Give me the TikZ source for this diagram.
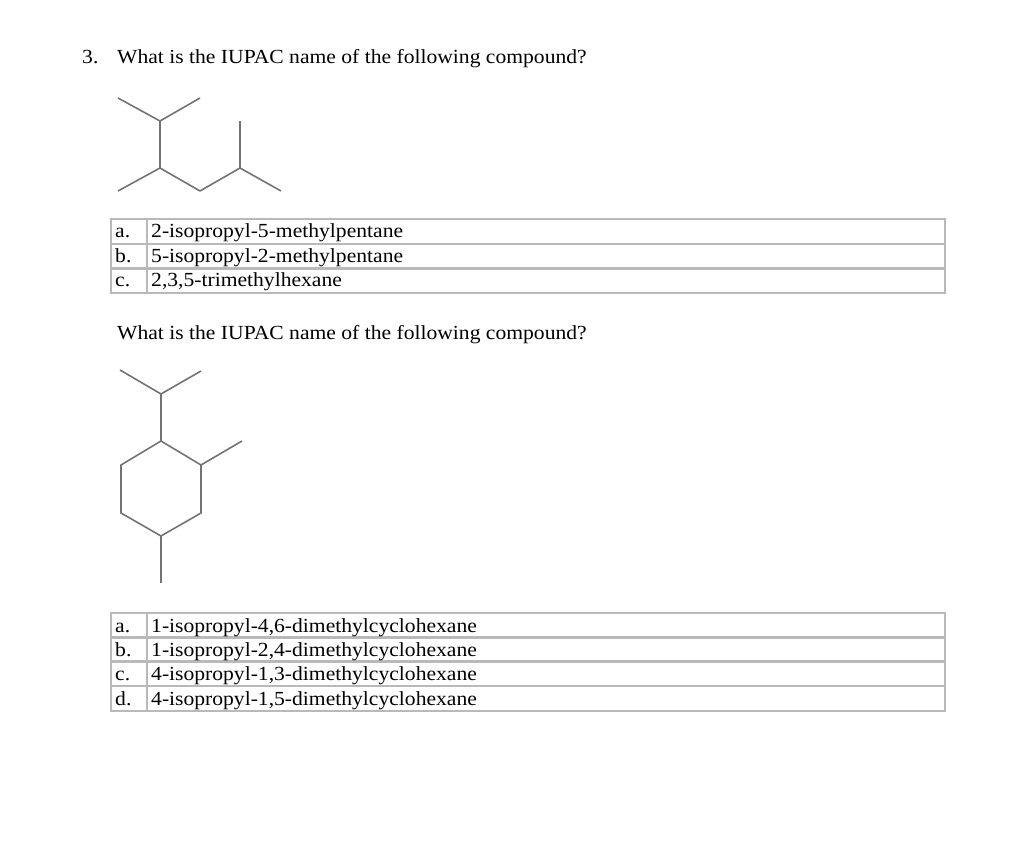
\documentclass[tikz,border=0pt]{standalone}
\usepackage{fontspec}
\setmainfont[FakeStretch=1.08]{Liberation Serif}
\begin{document}
\begin{tikzpicture}[x=1pt,y=-1pt,
 bond/.style={draw=gray!90!black,line width=1.6pt,line join=round},
 cell/.style={draw=gray!55,line width=1.2pt},
 txt/.style={anchor=base west,inner sep=0pt,font=\fontsize{20}{22}\selectfont}]
\useasboundingbox (0,0) rectangle (1022,858);
\node[txt] (q1n) at (82,64) {3.};
\node[txt] (q1) at (117,64) {What is the IUPAC name of the following compound?};
% molecule 1
\draw[bond] (118,98) -- (160,121) -- (200,98);
\draw[bond] (160,121) -- (160,168) -- (118,191);
\draw[bond] (160,168) -- (200,191) -- (240,168) -- (281,191);
\draw[bond] (240,168) -- (240,121);
% table 1
\foreach \y in {219,244,268}{\draw[cell] (111,\y) rectangle (945,\y+25);\draw[cell] (147,\y) -- (147,\y+25);}
\node[txt] (a1) at (115,238) {a.};
\node[txt] (a1t) at (151,238) {2-isopropyl-5-methylpentane};
\node[txt] (b1) at (115,263) {b.};
\node[txt] (b1t) at (151,263) {5-isopropyl-2-methylpentane};
\node[txt] (c1) at (115,287) {c.};
\node[txt] (c1t) at (151,287) {2,3,5-trimethylhexane};
\node[txt] (q2) at (117,340) {What is the IUPAC name of the following compound?};
% molecule 2
\draw[bond] (120,370) -- (161,394) -- (201,371);
\draw[bond] (161,394) -- (161,441);
\draw[bond] (161,441) -- (201,465) -- (201,513) -- (161,536) -- (121,513) -- (121,465) -- cycle;
\draw[bond] (201,465) -- (242,441);
\draw[bond] (161,536) -- (161,583);
% table 2
\foreach \y in {613,637,661,686}{\draw[cell] (111,\y) rectangle (945,\y+25);\draw[cell] (147,\y) -- (147,\y+25);}
\node[txt] (a2) at (115,632) {a.};
\node[txt] (a2t) at (151,632) {1-isopropyl-4,6-dimethylcyclohexane};
\node[txt] (b2) at (115,656) {b.};
\node[txt] (b2t) at (151,656) {1-isopropyl-2,4-dimethylcyclohexane};
\node[txt] (c2) at (115,680) {c.};
\node[txt] (c2t) at (151,680) {4-isopropyl-1,3-dimethylcyclohexane};
\node[txt] (d2) at (115,705) {d.};
\node[txt] (d2t) at (151,705) {4-isopropyl-1,5-dimethylcyclohexane};
\end{tikzpicture}
\end{document}
